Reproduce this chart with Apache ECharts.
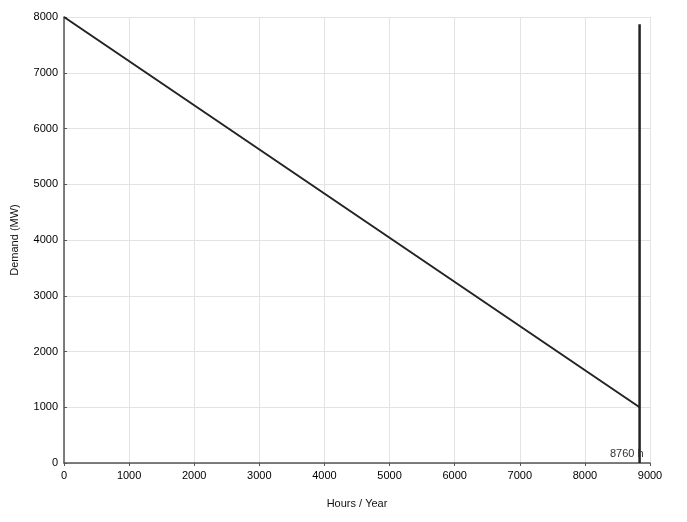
<!DOCTYPE html>
<html><head><meta charset="utf-8">
<script src="https://cdn.jsdelivr.net/npm/echarts@6/dist/echarts.min.js"></script>
<style>html,body{margin:0;padding:0;background:#fff}#c{width:687px;height:522px}</style>
</head><body><div id="c"></div>
<script>
const hours = [0, 8840];
const demand = [8000, 1000];
const markerHours = [8840, 8840];
const markerValues = [0, 7870];
const markerLabel = '8760 h';
const xTicks = [0, 1000, 2000, 3000, 4000, 5000, 6000, 7000, 8000, 9000];
const yTicks = [0, 1000, 2000, 3000, 4000, 5000, 6000, 7000, 8000];

const font = 'Liberation Sans, Arial, sans-serif';
const chart = echarts.init(document.getElementById('c'));
chart.setOption({
  animation: false,
  grid: { left: 64, right: 37, top: 17, bottom: 59, outerBoundsMode: 'none', containLabel: false },
  xAxis: {
    type: 'value', min: xTicks[0], max: xTicks[xTicks.length - 1], interval: 1000,
    name: 'Hours / Year', nameLocation: 'middle', nameGap: 35,
    nameTextStyle: { fontFamily: font, fontSize: 11, color: '#111' },
    axisLine: { show: true, onZero: false, lineStyle: { color: '#555', width: 1.5 } },
    axisTick: { show: true, inside: false, length: 3, lineStyle: { color: '#555' } },
    axisLabel: { fontFamily: font, fontSize: 11, color: '#000', margin: 7, formatter: v => String(v) },
    splitLine: { show: true, lineStyle: { color: '#e3e3e3', width: 1 } }
  },
  yAxis: {
    type: 'value', min: yTicks[0], max: yTicks[yTicks.length - 1], interval: 1000,
    name: 'Demand (MW)', nameLocation: 'middle', nameGap: 44, nameRotate: 90,
    nameTextStyle: { fontFamily: font, fontSize: 11, color: '#111' },
    axisLine: { show: true, onZero: false, lineStyle: { color: '#555', width: 1.5 } },
    axisTick: { show: true, inside: true, length: 3, lineStyle: { color: '#555' } },
    axisLabel: { fontFamily: font, fontSize: 11, color: '#000', margin: 6, formatter: v => String(v) },
    splitLine: { show: true, lineStyle: { color: '#e3e3e3', width: 1 } }
  },
  series: [
    {
      type: 'line', data: hours.map((h, i) => [h, demand[i]]),
      showSymbol: false, symbol: 'none',
      lineStyle: { color: '#222', width: 2 }
    },
    {
      type: 'line', data: markerHours.map((h, i) => [h, markerValues[i]]),
      symbol: 'circle', symbolSize: 0, showSymbol: true,
      itemStyle: { color: 'rgba(0,0,0,0)' },
      lineStyle: { color: '#222', width: 2.5 },
      label: {
        show: true,
        formatter: p => (p.dataIndex === 0 ? markerLabel : ''),
        position: 'left', distance: 0, offset: [4, -9],
        fontFamily: font, fontSize: 11, color: '#333'
      }
    }
  ]
});
</script></body></html>
